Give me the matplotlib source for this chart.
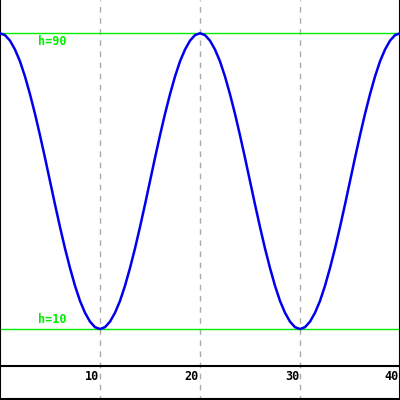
import matplotlib
matplotlib.use("Agg")
import matplotlib.pyplot as plt
from matplotlib.lines import Line2D

# one period of the wave, every 0.5 units
period_x = [0.0, 0.5, 1.0, 1.5, 2.0, 2.5, 3.0, 3.5, 4.0, 4.5, 5.0,
            5.5, 6.0, 6.5, 7.0, 7.5, 8.0, 8.5, 9.0, 9.5, 10.0,
            10.5, 11.0, 11.5, 12.0, 12.5, 13.0, 13.5, 14.0, 14.5, 15.0,
            15.5, 16.0, 16.5, 17.0, 17.5, 18.0, 18.5, 19.0, 19.5]
period_h = [90.0, 89.5, 88.0, 85.6, 82.4, 78.3, 73.5, 68.2, 62.4, 56.3, 50.0,
            43.7, 37.6, 31.8, 26.5, 21.7, 17.6, 14.4, 12.0, 10.5, 10.0,
            10.5, 12.0, 14.4, 17.6, 21.7, 26.5, 31.8, 37.6, 43.7, 50.0,
            56.3, 62.4, 68.2, 73.5, 78.3, 82.4, 85.6, 88.0, 89.5]

# the chart shows two identical periods, closed at x=40
xs = period_x + [x + 20 for x in period_x] + [40.0]
hs = period_h + period_h + [90.0]

tick_vals = [10, 20, 30, 40]
tick_labels = ["10", "20", "30", "40"]
ref_levels = [90, 10]
ref_labels = ["h=90", "h=10"]

GREEN = "#00ee00"
BLUE = "#0000ee"
mono = dict(family="DejaVu Sans Mono", weight="bold", size=8.5)

fig = plt.figure(figsize=(4, 4), dpi=100)
ax = fig.add_axes([0, 34 / 400, 1, 366 / 400])
ax.set_xlim(0, 40)
ax.set_ylim(0, 99)
ax.set_xticks([])
ax.set_yticks([])
ax.spines["top"].set_visible(False)
for s in ("left", "right", "bottom"):
    ax.spines[s].set_color("black")
    ax.spines[s].set_linewidth(1.5)

# dashed vertical guides run down through the label strip
for v in tick_vals[:-1]:
    ax.axvline(v, ymin=-0.1, ymax=1, color="#aaaaaa", linewidth=1,
               linestyle=(0, (4, 4)), clip_on=False, zorder=1)

for lvl, lbl in zip(ref_levels, ref_labels):
    ax.axhline(lvl, color=GREEN, linewidth=1, zorder=2)
    if lvl > 50:
        ax.text(3.8, lvl - 0.5, lbl, color=GREEN, ha="left", va="top", **mono)
    else:
        ax.text(3.8, lvl + 0.8, lbl, color=GREEN, ha="left", va="bottom", **mono)

ax.plot(xs, hs, color=BLUE, linewidth=1.8, zorder=3)

for v, lbl in zip(tick_vals, tick_labels):
    ax.text(v - 0.1, -0.012, lbl, transform=ax.get_xaxis_transform(),
            ha="right", va="top", clip_on=False, **mono)

# frame around the label strip
fig.add_artist(Line2D([0.001, 0.001], [0, 0.1], color="black", linewidth=1.5))
fig.add_artist(Line2D([0.999, 0.999], [0, 0.1], color="black", linewidth=1.5))
fig.add_artist(Line2D([0, 1], [0.002, 0.002], color="black", linewidth=1.5))

fig.savefig("out.png", dpi=100)
